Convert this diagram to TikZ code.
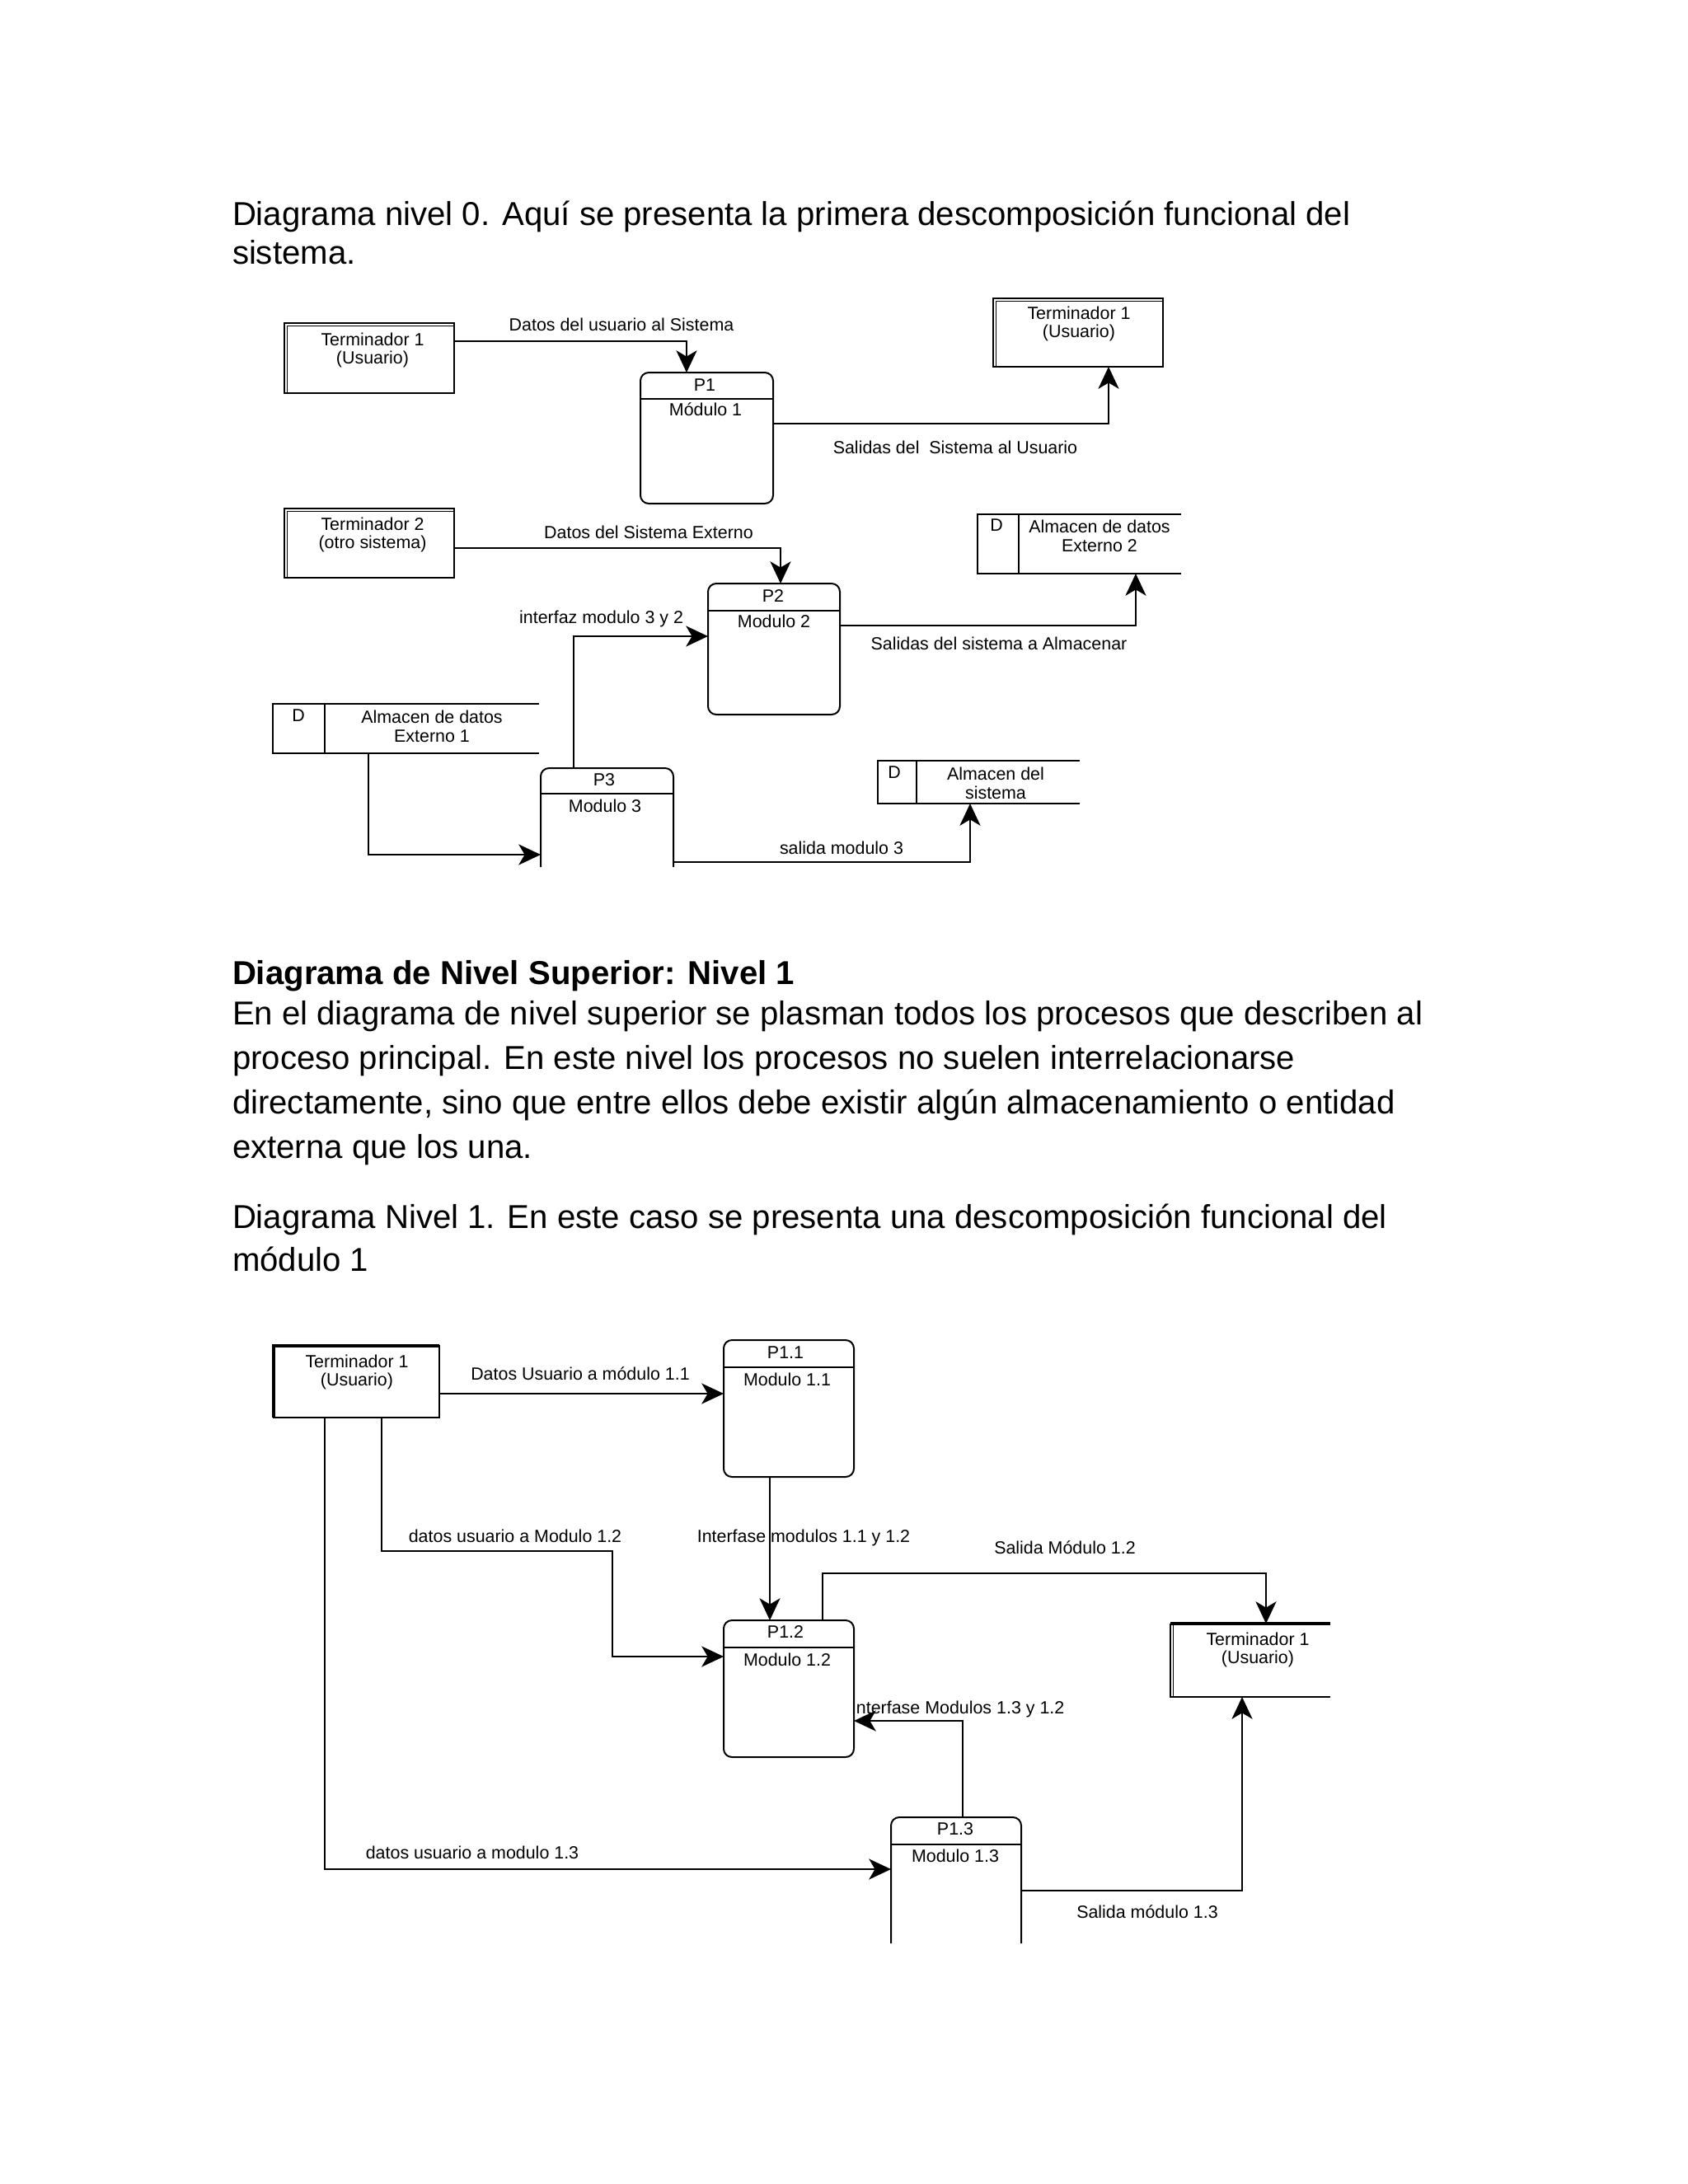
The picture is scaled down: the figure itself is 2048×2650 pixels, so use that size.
\documentclass[tikz,border=0pt]{standalone}
\usepackage{fontspec}
\setmainfont{Liberation Sans}
\usetikzlibrary{arrows.meta}
\newcommand{\px}{0.29883pt}
\begin{document}
\begin{tikzpicture}[x=\px,y=-\px,
  every node/.style={inner sep=0pt,outer sep=0pt,font=\fontsize{6.4}{6.8}\selectfont},
  caja/.style 2 args={anchor=north west,minimum width=#1*\px,minimum height=#2*\px},
  term/.style={draw,line width=.6pt},
  proc/.style={draw,line width=.6pt,rounded corners=3pt},
  abierta/.style={line width=.6pt},
  flujo/.style={line width=.6pt,-{Stealth[length=8pt,width=7.5pt,inset=2.2pt]}},
  etq/.style={align=center},
  parrafo/.style={anchor=base west,font=\fontsize{12}{14}\selectfont}]
\useasboundingbox (0,0) rectangle (2048,2650);
%%%%% Text before the level 0 diagram
\node[parrafo] (tx1) at (282,273) {Diagrama nivel 0. Aquí se presenta la primera descomposición funcional del};
\node[parrafo] (tx2) at (282,320) {sistema.};
%%%%%% LEVEL 0: terminators
\node[term,caja={206}{85}] (t1a) at (345,392) {};
\draw ([xshift=1pt]t1a.south west) |- ([yshift=-1pt]t1a.north east);
\node[etq] (t1atx) at (452,425) {Terminador 1\\(Usuario)};
\node[term,caja={206}{83}] (t1b) at (1205,362) {};
\draw ([xshift=1pt]t1b.south west) |- ([yshift=-1pt]t1b.north east);
\node[etq] (t1btx) at (1309,393) {Terminador 1\\(Usuario)};
\node[term,caja={206}{84}] (t2) at (345,617) {};
\draw ([xshift=1pt]t2.south west) |- ([yshift=-1pt]t2.north east);
\node[etq] (t2tx) at (452,649) {Terminador 2\\(otro sistema)};
%%%%%% LEVEL 0: processes
\node[proc,caja={161}{159}] (p1) at (777,452) {};
\draw (p1.west |- 0,484) -- (p1.east |- 0,484);
\node (p1id) at (855,467) {P1};
\node (p1nom) at (856,497) {Módulo 1};
\node[proc,caja={160}{159}] (p2) at (859,708) {};
\draw (p2.west |- 0,741) -- (p2.east |- 0,741);
\node (p2id) at (938,723) {P2};
\node (p2nom) at (939,754) {Modulo 2};
% P3 has no bottom line
\node[caja={161}{120}] (p3) at (656,932) {};
\draw[abierta,rounded corners=3pt] (p3.south west) -- (p3.north west) -- (p3.north east) -- (p3.south east);
\draw (p3.west |- 0,963) -- (p3.east |- 0,963);
\node (p3id) at (733,946) {P3};
\node (p3nom) at (734,978) {Modulo 3};
%%%%%% LEVEL 0: data stores (open on the right)
\node[caja={247}{72}] (alm2) at (1186,624) {};
\draw[abierta] (alm2.north east) -- (alm2.north west) -- (alm2.south west) -- (alm2.south east);
\draw (alm2.north west -| 1236,0) -- (alm2.south west -| 1236,0);
\node (alm2d) at (1209,637) {D};
\node[etq] (alm2tx) at (1334,650) {Almacen de datos\\Externo 2};
\node[caja={323}{60}] (alm1) at (331,854) {};
\draw[abierta] (alm1.north east) -- (alm1.north west) -- (alm1.south west) -- (alm1.south east);
\draw (alm1.north west -| 394,0) -- (alm1.south west -| 394,0);
\node (alm1d) at (362,868) {D};
\node[etq] (alm1tx) at (524,881) {Almacen de datos\\Externo 1};
\node[caja={245}{52}] (alm3) at (1065,923) {};
\draw[abierta] (alm3.north east) -- (alm3.north west) -- (alm3.south west) -- (alm3.south east);
\draw (alm3.north west -| 1112,0) -- (alm3.south west -| 1112,0);
\node (alm3d) at (1085,937) {D};
\node[etq] (alm3tx) at (1208,950) {Almacen del\\sistema};
%%%%%% LEVEL 0: data flows
\draw[flujo] (t1a.east |- 0,414) -| (p1.north -| 833,0);
\node (l1) at (754,394) {Datos del usuario al Sistema};
\draw[flujo] (p1.east |- 0,514) -| (t1b.south -| 1345,0);
\node (l2) at (1159,543) {Salidas del\ \ Sistema al Usuario};
\draw[flujo] (t2.east |- 0,665) -| (p2.north -| 947,0);
\node (l3) at (787,646) {Datos del Sistema Externo};
\draw[flujo] (p2.east |- 0,759) -| (alm2.south -| 1378,0);
\node (l4) at (1212,781) {Salidas del sistema a Almacenar};
\draw[flujo] (p3.north -| 696,0) |- (p2.west |- 0,772);
\node[anchor=east] (l5) at (829,751) {interfaz modulo 3 y 2};
\draw[flujo] (alm1.south -| 447,0) |- (p3.west |- 0,1037);
\draw[flujo] (p3.east |- 0,1046) -| (alm3.south -| 1177,0);
\node (l6) at (1021,1029) {salida modulo 3};
%%%%% Text between the two diagrams
\node[parrafo] (tx3) at (282,1194) {\bfseries Diagrama de Nivel Superior: Nivel 1};
\node[parrafo] (tx4) at (282,1243) {En el diagrama de nivel superior se plasman todos los procesos que describen al};
\node[parrafo] (tx5) at (282,1297) {proceso principal. En este nivel los procesos no suelen interrelacionarse};
\node[parrafo] (tx6) at (282,1351) {directamente, sino que entre ellos debe existir algún almacenamiento o entidad};
\node[parrafo] (tx7) at (282,1405) {externa que los una.};
\node[parrafo] (tx8) at (282,1490) {Diagrama Nivel 1. En este caso se presenta una descomposición funcional del};
\node[parrafo] (tx9) at (282,1542) {módulo 1};
%%%%%% LEVEL 1: terminators
\node[term,caja={201}{87}] (t1c) at (332,1633) {};
\draw[line width=1.3pt] (t1c.south west) |- (t1c.north east);
\node[etq] (t1ctx) at (433,1665) {Terminador 1\\(Usuario)};
% right side of this one is open
\node[caja={194}{89}] (t1d) at (1420,1970) {};
\draw[abierta] (t1d.north west) -- (t1d.south west) -- (t1d.south east);
\draw[line width=1.3pt] (t1d.north west) -- (t1d.north east);
\draw ([xshift=1pt]t1d.north west) -- ([xshift=1pt]t1d.south west);
\node[etq] (t1dtx) at (1526,2002) {Terminador 1\\(Usuario)};
%%%%%% LEVEL 1: processes
\node[proc,caja={158}{166}] (p11) at (878,1626) {};
\draw (p11.west |- 0,1659) -- (p11.east |- 0,1659);
\node (p11id) at (953,1641) {P1.1};
\node (p11nom) at (955,1674) {Modulo 1.1};
\node[proc,caja={158}{166}] (p12) at (878,1966) {};
\draw (p12.west |- 0,1999) -- (p12.east |- 0,1999);
\node (p12id) at (953,1980) {P1.2};
\node (p12nom) at (955,2014) {Modulo 1.2};
\node[caja={158}{153}] (p13) at (1081,2205) {};
\draw[abierta,rounded corners=3pt] (p13.south west) -- (p13.north west) -- (p13.north east) -- (p13.south east);
\draw (p13.west |- 0,2238) -- (p13.east |- 0,2238);
\node (p13id) at (1159,2219) {P1.3};
\node (p13nom) at (1159,2252) {Modulo 1.3};
%%%%%% LEVEL 1: data flows
\draw[flujo] (t1c.east |- 0,1691) -- (p11.west |- 0,1691);
\node (m1) at (704,1667) {Datos Usuario a módulo 1.1};
\draw[flujo] (t1c.south -| 463,0) |- (743,1882) |- (p12.west |- 0,2010);
\node (m2) at (625,1864) {datos usuario a Modulo 1.2};
\draw[flujo] (p11.south -| 934,0) -- (p12.north -| 934,0);
\node (m3) at (975,1866) {Interfase modulos 1.1 y 1.2};
\draw[flujo] (p12.north -| 998,0) |- (1536,1909) -- (t1d.north -| 1536,0);
\node (m4) at (1292,1878) {Salida Módulo 1.2};
\draw[flujo] (p13.north -| 1168,0) |- (p12.east |- 0,2088);
\node[anchor=west] (m5) at (1033,2074) {Interfase Modulos 1.3 y 1.2};
\draw[flujo] (t1c.south -| 394,0) |- (p13.west |- 0,2268);
\node (m6) at (573,2248) {datos usuario a modulo 1.3};
\draw[flujo] (p13.east |- 0,2294) -| (t1d.south -| 1507,0);
\node (m7) at (1392,2320) {Salida módulo 1.3};
\end{tikzpicture}
\end{document}
